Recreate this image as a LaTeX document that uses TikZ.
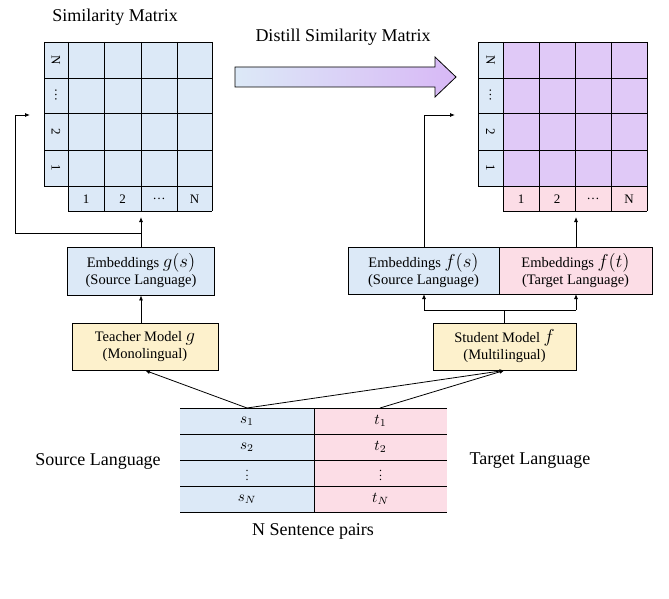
\documentclass[tikz,border=0pt]{standalone}
\usepackage{fontspec}
\usepackage{graphicx}
\setmainfont{Liberation Serif}
\usetikzlibrary{arrows.meta,shapes.arrows}
\definecolor{cblue}{HTML}{DCE9F7}
\definecolor{cpink}{HTML}{FCDDE6}
\definecolor{cpurp}{HTML}{E0C9F7}
\definecolor{cyell}{HTML}{FDF1CC}
\definecolor{cpurpd}{HTML}{D8B8F6}
\begin{document}
\begin{tikzpicture}[x=1pt,y=-1pt,line width=0.8pt,
  box/.style={draw,align=center,font=\fontsize{14.5}{17}\selectfont,inner sep=0pt},
  big/.style={font=\fontsize{18}{20}\selectfont},
  lab/.style={font=\fontsize{13}{15}\selectfont},
  mlab/.style={inner sep=1pt},
  arr/.style={-{Latex[length=5pt,width=4pt]}}]
\useasboundingbox (0,0) rectangle (669,599);
% left matrix
\fill[cblue] (44,42) rectangle (212,186);
\fill[cblue] (68,186) rectangle (212,211);
\foreach \y in {42,78,113,150,186}{\draw (44,\y) -- (212,\y);}
\foreach \x in {68,104,141,177,212}{\draw (\x,42) -- (\x,211);}
\draw (44,42) -- (44,186);
\draw (68,211) -- (212,211);
\foreach \t/\y in {N/60,\dots/95.5,2/131.5,1/168}{\node[rotate=-90,lab] (ll\y) at (56,\y) {\t};}
\foreach \t/\x in {1/86,2/122.5,\dots/159,N/194.5}{\node[lab] (lb\x) at (\x,199) {\t};}
\node[big] (t1) at (115,17) {Similarity Matrix};
% right matrix
\fill[cblue] (478,42) rectangle (503,186);
\fill[cpurp] (503,42) rectangle (647,186);
\fill[cpink] (503,186) rectangle (647,211);
\foreach \y in {42,78,113,150,186}{\draw (478,\y) -- (647,\y);}
\foreach \x in {503,539,575,611,647}{\draw (\x,42) -- (\x,211);}
\draw (478,42) -- (478,186);
\draw (503,211) -- (647,211);
\foreach \t/\y in {N/60,\dots/95.5,2/131.5,1/168}{\node[rotate=-90,lab] (rl\y) at (490.5,\y) {\t};}
\foreach \t/\x in {1/521,2/557,\dots/593,N/629}{\node[lab] (rb\x) at (\x,199) {\t};}
% distill arrow
\node[big] (t2) at (343,37) {Distill Similarity Matrix};
\shade[left color=cblue,right color=cpurpd,draw=black] (235,67) -- (435,67) -- (435,57) -- (456,77) -- (435,97) -- (435,87) -- (235,87) -- cycle;
% embeddings
\node[box,fill=cblue,minimum width=147pt,minimum height=48pt] (eg) at (141,271) {Embeddings \scalebox{1.3}{$g(s)$}\\(Source Language)};
\node[box,fill=cblue,minimum width=151pt,minimum height=47pt] (efs) at (423.5,270.5) {Embeddings \scalebox{1.3}{$f(s)$}\\(Source Language)};
\node[box,fill=cpink,minimum width=153pt,minimum height=47pt] (eft) at (575.5,270.5) {Embeddings \scalebox{1.3}{$f(t)$}\\(Target Language)};
% models
\node[box,fill=cyell,minimum width=146pt,minimum height=47pt] (tm) at (145,346.5) {Teacher Model \scalebox{1.3}{$g$}\\(Monolingual)};
\node[box,fill=cyell,minimum width=143pt,minimum height=47pt] (sm) at (504.5,346.5) {Student Model \scalebox{1.3}{$f$}\\(Multilingual)};
% table
\fill[cblue] (180,408) rectangle (314,512);
\fill[cpink] (314,408) rectangle (447,512);
\foreach \y in {408,434,460,486,512}{\draw (180,\y) -- (447,\y);}
\draw (314,408) -- (314,512);
\foreach \t/\y in {s_1/421,s_2/447,s_N/499}{\node[mlab] (s\y) at (247,\y) {\scalebox{1.5}{$\t$}};}
\foreach \t/\y in {t_1/421,t_2/447,t_N/499}{\node[mlab] (tt\y) at (380.5,\y) {\scalebox{1.5}{$\t$}};}
\node[inner sep=0pt] (sd) at (247,472) {\scalebox{1.2}{$\vdots$}};
\node[inner sep=0pt] (td) at (380.5,472) {\scalebox{1.2}{$\vdots$}};
\coordinate (sa) at (247,408);
\coordinate (ta) at (380,408);
\node[big] (srcl) at (98,461) {Source Language};
\node[big] (tgtl) at (530,461) {Target Language};
\node[big] (nsp) at (313,531) {N Sentence pairs};
% connectors
\draw[arr] (sa) -- (tm.south);
\draw[arr] (sa) -- (sm.south);
\draw[arr] (ta) -- (sm.south);
\draw[arr] (tm.north -| eg.south) -- (eg.south);
\draw (sm.north) -- (504.5,310);
\draw[arr] (424,310) -- (424,294);
\draw[arr] (576,310) -- (576,294);
\draw (424,310) -- (576,310);
\coordinate (lm) at (141,217);
\coordinate (lt) at (30,115);
\draw[arr] (eg.north) -- (lm);
\draw[arr] (141,233) -- (15,233) -- (15,115) -- (lt);
\coordinate (rm) at (576,217);
\coordinate (rt) at (455,115);
\draw[arr] (576,247) -- (rm);
\draw[arr] (424,247) -- (424,115) -- (rt);
\end{tikzpicture}
\end{document}
